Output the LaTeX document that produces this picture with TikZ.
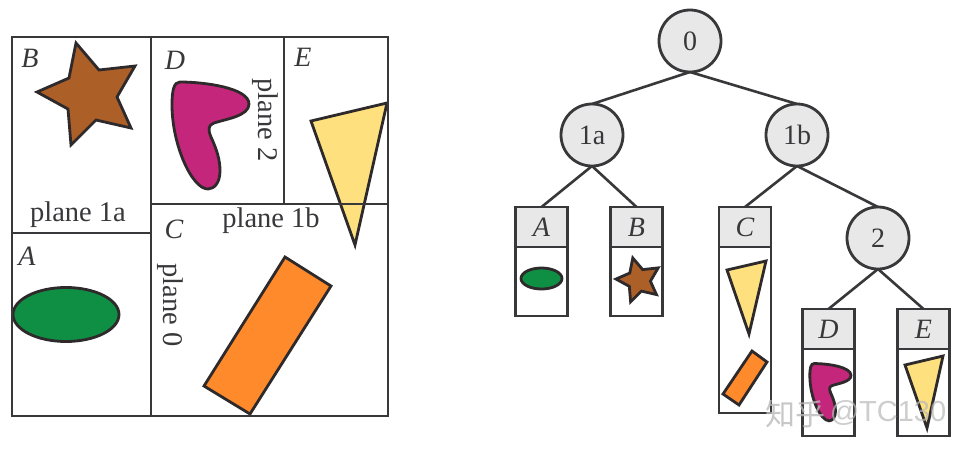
\documentclass[tikz,border=0pt]{standalone}
\usepackage{fontspec}
\setmainfont{Liberation Serif}
\newfontfamily\cjkmark{Noto Sans CJK SC}
\newfontfamily\latinmark{Liberation Sans}
\definecolor{inkline}{HTML}{38373A}
\definecolor{shapeline}{HTML}{2E2A2B}
\definecolor{nodegray}{HTML}{E8E8E9}
\definecolor{starbrown}{HTML}{AD5F28}
\definecolor{blobpink}{HTML}{C4267B}
\definecolor{triyellow}{HTML}{FEE17E}
\definecolor{ellgreen}{HTML}{0E8F44}
\definecolor{rectorange}{HTML}{FF8A2B}
\newcommand{\starpath}{(76,43) -- (99,70) -- (135,66) -- (117,97) -- (131,128) -- (96,120) -- (71,145) -- (68,109) -- (37,92) -- (69,78) -- cycle}
\newcommand{\blobpath}{(180,82) .. controls (205,82) and (249,88) .. (249,104) .. controls (249,116) and (226,119) .. (214,123) .. controls (208,125) and (208,130) .. (211,137) .. controls (217,150) and (220,160) .. (220,171) .. controls (220,183) and (214,189) .. (208,189) .. controls (192,189) and (172,145) .. (172,105) .. controls (172,90) and (174,82) .. (180,82) -- cycle}
\tikzset{
  x=1pt,y=-1pt,
  every node/.style={font=\fontsize{28}{30}\selectfont,text=inkline,inner sep=0pt,outer sep=0pt},
  shapefig/.style={draw=shapeline,line width=2.8pt,line join=miter},
  frameline/.style={draw=inkline,line width=2.6pt},
  treenode/.style={circle,draw=inkline,fill=nodegray,line width=2.8pt,minimum size=62pt},
  treeedge/.style={draw=inkline,line width=2.6pt},
  headbox/.style={rectangle,draw=inkline,fill=nodegray,line width=2.8pt,minimum width=52pt,minimum height=40pt,font=\fontsize{28}{30}\selectfont\itshape},
  bodybox/.style={rectangle,draw=inkline,fill=white,line width=2.8pt,minimum width=52pt,anchor=north},
  planelabel/.style={font=\fontsize{28.5}{30}\selectfont},
  regionlabel/.style={font=\fontsize{28}{30}\selectfont\itshape},
  markcjk/.style={font=\fontsize{30}{32}\cjkmark\selectfont,text=gray!55,opacity=.8},
  marklatin/.style={font=\fontsize{29}{32}\latinmark\selectfont,text=gray!55,opacity=.7},
}
\begin{document}
\begin{tikzpicture}
\useasboundingbox (0,0) rectangle (972,453);
% left panel shapes
\fill[white] (0,0) rectangle (972,453);
\draw[shapefig,fill=starbrown] \starpath;
\draw[shapefig,fill=blobpink] \blobpath;
\draw[shapefig,fill=triyellow] (311,121) -- (387,103) -- (355,245) -- cycle;
\draw[shapefig,fill=ellgreen] (66,314.5) ellipse [x radius=53,y radius=27];
\draw[shapefig,fill=rectorange] (285,257) -- (331,286) -- (250,414) -- (204,386) -- cycle;
% left panel frame
\draw[frameline] (12,37) rectangle (388,416);
\draw[frameline] (151,37) -- (151,416);
\draw[frameline] (12,233) -- (151,233);
\draw[frameline] (151,204) -- (388,204);
\draw[frameline] (284,37) -- (284,204);
% left panel labels
\node[regionlabel] (lB) at (30,58) {B};
\node[regionlabel] (lD) at (175,60) {D};
\node[regionlabel] (lE) at (303,57) {E};
\node[regionlabel] (lC) at (174,229) {C};
\node[regionlabel] (lA) at (27,256) {A};
\node[planelabel] (p1a) at (78,215) {plane 1a};
\node[planelabel] (p1b) at (271,221) {plane 1b};
\node[planelabel,rotate=-90] (p2) at (265,120) {plane 2};
\node[planelabel,rotate=-90] (p0) at (170,305) {plane 0};
% tree
\node[treenode] (n0) at (690,41) {0};
\node[treenode] (n1a) at (592,135) {1a};
\node[treenode] (n1b) at (797,135) {1b};
\node[treenode] (n2) at (878,238) {2};
\node[headbox] (A) at (541.5,227) {A};
\node[headbox] (B) at (636.5,227) {B};
\node[headbox] (C) at (745,227) {C};
\node[headbox] (D) at (828.5,329) {D};
\node[headbox] (E) at (923.5,329) {E};
\node[bodybox,minimum height=69pt] (Ab) at (A.south) {};
\node[bodybox,minimum height=166pt] (Cb) at (C.south) {};
\node[bodybox,minimum height=69pt] (Bb) at (B.south) {};
\node[bodybox,minimum height=87pt] (Db) at (D.south) {};
\node[bodybox,minimum height=87pt] (Eb) at (E.south) {};
\draw[treeedge] (n0.south) -- (n1a.north);
\draw[treeedge] (n0.south) -- (n1b.north);
\draw[treeedge] (n1a.south) -- (A.north);
\draw[treeedge] (n1a.south) -- (B.north);
\draw[treeedge] (n1b.south) -- (C.north);
\draw[treeedge] (n1b.south) -- (n2.north);
\draw[treeedge] (n2.south) -- (D.north);
\draw[treeedge] (n2.south) -- (E.north);
% small shapes
\draw[shapefig,fill=ellgreen] (541.5,278.5) ellipse [x radius=20.5,y radius=10.5];
\begin{scope}[shift={(600.1,239.5)},scale=.43]
\draw[shapefig,fill=starbrown] \starpath;
\end{scope}
\draw[shapefig,fill=triyellow] (727,270) -- (766,261) -- (749,334) -- cycle;
\draw[shapefig,fill=rectorange] (752,351) -- (767,362) -- (739,405) -- (723,394) -- cycle;
\begin{scope}[shift={(717.8,319.7)},scale=.535]
\draw[shapefig,fill=blobpink] \blobpath;
\end{scope}
\draw[shapefig,fill=triyellow] (905,365) -- (943,356) -- (927,428) -- cycle;
% watermark
\node[markcjk] (wm1) at (795,414) {知乎};
\node[marklatin] (wm2) at (888,413) {@TC130};
\end{tikzpicture}
\end{document}
